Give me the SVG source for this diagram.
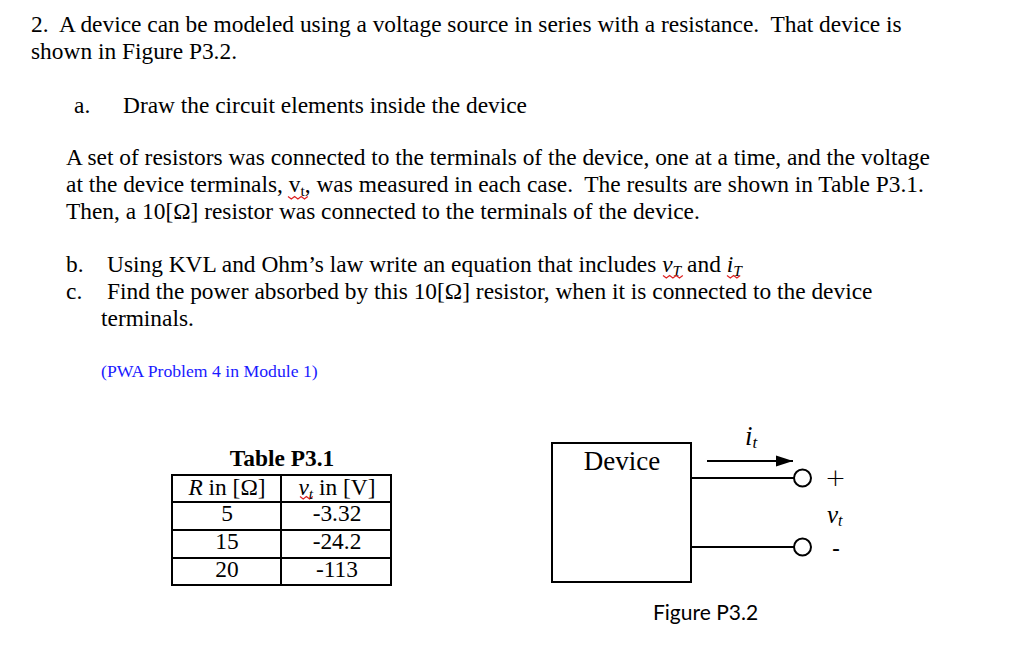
<svg xmlns="http://www.w3.org/2000/svg" width="1024" height="670" viewBox="0 0 1024 670">
<style>
text{font-family:"Liberation Serif","Times New Roman",serif;fill:#000;white-space:pre}
.b{font-size:23.4px}
.t{font-size:23.4px;text-anchor:middle}
.i{font-style:italic}
.s{font-size:15.5px}
.blue{font-size:17.7px;fill:#1a1aff}
.bold{font-weight:bold;font-size:23.4px;text-anchor:middle}
.cal{font-family:Lato,"Open Sans",sans-serif;font-size:21px}
.line{fill:none;stroke:#000;stroke-width:2}
.w{fill:none;stroke:#000;stroke-width:2}
.sq{fill:none;stroke:#d22;stroke-width:1.200}
</style>
<defs><marker id="ah" markerUnits="userSpaceOnUse" markerWidth="18" markerHeight="12" refX="17" refY="6" orient="auto"><path d="M0 0.500L17 6L0 11.500Z" fill="#000"/></marker></defs>
<rect width="1024" height="670" fill="#fff"/>
<g id="text">
<text class="b" x="31" y="32">2.  A device can be modeled using a voltage source in series with a resistance.  That device is</text>
<text class="b" x="31" y="59">shown in Figure P3.2.</text>
<text class="b" x="74" y="113">a.</text>
<text class="b" x="123" y="113">Draw the circuit elements inside the device</text>
<text class="b" x="66" y="165">A set of resistors was connected to the terminals of the device, one at a time, and the voltage</text>
<text class="b" x="66" y="192">at the device terminals, v<tspan class="s" dy="4">t</tspan><tspan dy="-4">, was measured in each case.  The results are shown in Table P3.1.</tspan></text>
<text class="b" x="66" y="219">Then, a 10[Ω] resistor was connected to the terminals of the device.</text>
<text class="b" x="66" y="272">b.</text>
<text class="b" x="107" y="272">Using KVL and Ohm’s law write an equation that includes <tspan class="i">v</tspan><tspan class="i s" dy="4">T</tspan><tspan dy="-4"> and </tspan><tspan class="i">i</tspan><tspan class="i s" dy="4">T</tspan></text>
<text class="b" x="66" y="299">c.</text>
<text class="b" x="107" y="299">Find the power absorbed by this 10[Ω] resistor, when it is connected to the device</text>
<text class="b" x="101" y="326">terminals.</text>
<text class="blue" x="101" y="377">(PWA Problem 4 in Module 1)</text>
</g>
<g id="squiggles">
<path class="sq" d="M288 196.500l3.300 2.500 3.300-2.500 3.300 2.500 3.300-2.500 3.300 2.500 3.300-2.500"/>
<path class="sq" d="M663 275.500l3.300 2.500 3.300-2.500 3.300 2.500 3.300-2.500 3.300 2.500 3.300-2.500"/>
<path class="sq" d="M727 275.500l3.300 2.500 3.300-2.500 3.300 2.500 3.300-2.500"/>
<path class="sq" d="M300 496.500l3.200 2.500 3.200-2.500 3.200 2.500 3.200-2.500"/>
</g>
<g id="table">
<text class="bold" x="282" y="466">Table P3.1</text>
<path class="line" d="M172 475H391V585H172ZM281 475V585M172 502H391M172 530H391M172 558H391"/>
<text class="t" x="227" y="495"><tspan class="i">R</tspan> in [Ω]</text>
<text class="t" x="337" y="495"><tspan class="i">v</tspan><tspan class="i s" dy="4">t</tspan><tspan dy="-4"> in [V]</tspan></text>
<text class="t" x="227" y="521">5</text><text class="t" x="337" y="521">-3.32</text>
<text class="t" x="227" y="549">15</text><text class="t" x="337" y="549">-24.2</text>
<text class="t" x="227" y="577">20</text><text class="t" x="337" y="577">-113</text>
</g>
<g id="device">
<rect x="552" y="443" width="139" height="139" class="line"/>
<text x="622" y="470" font-size="27" text-anchor="middle">Device</text>
</g>
<g id="connectors">
<path class="w" d="M691 478H794M691 547H794"/>
<path class="w" d="M707 461H793" marker-end="url(#ah)"/>
</g>
<g id="terminal-plus"><circle cx="802.500" cy="478" r="8.500" fill="#fff" stroke="#000" stroke-width="2"/></g>
<g id="terminal-minus"><circle cx="802.500" cy="547" r="8.500" fill="#fff" stroke="#000" stroke-width="2"/></g>
<g id="labels">
<text x="745" y="445" font-size="27" class="i">i<tspan font-size="17" dy="3">t</tspan></text>
<text x="825" y="486" font-size="25" style="font-family:'DejaVu Sans',sans-serif;font-weight:200">+</text>
<text x="827" y="523" font-size="25" class="i">v<tspan font-size="16" dy="3">t</tspan></text>
<text x="832" y="556" font-size="24" style="font-family:'Liberation Sans',sans-serif">-</text>
<text class="cal" x="653" y="619.500">Figure P3.2</text>
</g>
</svg>
